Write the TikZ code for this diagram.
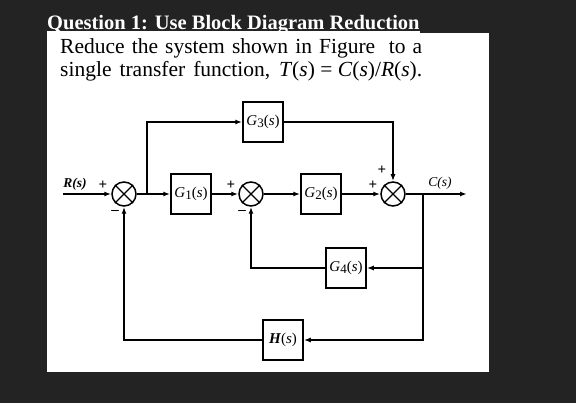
\documentclass[tikz,border=0pt]{standalone}
\usepackage{fontspec}
\setmainfont{Liberation Serif}
\usetikzlibrary{arrows.meta}
\definecolor{bg}{HTML}{232323}
\newcommand\Gsub[1]{\textit{G}\kern0.3pt\raisebox{-2pt}{\fontsize{13}{13}\selectfont #1}(\textit{s})}
\begin{document}
\begin{tikzpicture}[x=1pt,y=-1pt,
  blk/.style={draw,line width=1.5pt,minimum width=40pt,minimum height=40pt,inner sep=0pt,font=\fontsize{15}{15}\selectfont},
  sumj/.style={draw,circle,line width=1.5pt,minimum size=24pt,inner sep=0pt},
  wire/.style={line width=1.4pt},
  arr/.style={wire,-{Latex[length=7pt,width=5pt]}},
  sgn/.style={font=\fontsize{15}{15}\selectfont\bfseries,inner sep=0pt},
  lbl/.style={font=\fontsize{13.5}{13.5}\selectfont\itshape,inner sep=0pt}]
\fill[bg] (0,0) rectangle (576,403);
\useasboundingbox (0,0) rectangle (576,403);
\fill[white] (47,33) rectangle (489,372);
% title
\node[anchor=base west,text=white,font=\fontsize{20.5}{20.5}\selectfont\bfseries,inner sep=0pt] (title) at (47,30) {Question 1: Use Block Diagram Reduction};
\draw[white,line width=1.2pt] ([yshift=-2pt]title.base west) -- ([yshift=-2pt]title.base east);
% body text
\node[anchor=base west,inner sep=0pt,font=\fontsize{21.5}{24}\selectfont] (l1) at (60,54) {\makebox[362pt][s]{Reduce the system shown in Figure\hspace{0.3em} to a}};
\node[anchor=base west,inner sep=0pt,font=\fontsize{21.5}{24}\selectfont] (l2) at (60,77) {\makebox[362pt][s]{single transfer function, \mbox{\textit{T}(\textit{s})~=~\textit{C}(\textit{s})/\textit{R}(\textit{s}).}}};
% nodes
\coordinate (in) at (63,194);
\node[sumj] (s1) at (124,194) {};
\node[blk] (g1) at (191,194) {\Gsub{1}};
\node[sumj] (s2) at (251,194) {};
\node[blk] (g2) at (321,194) {\Gsub{2}};
\node[sumj] (s3) at (393,194) {};
\node[blk] (g3) at (263,122) {\Gsub{3}};
\node[blk] (g4) at (346,268) {\Gsub{4}};
\node[blk] (h) at (283,340) {\textit{\bfseries H}(\textit{s})};
\coordinate (b1) at (147,194);
\coordinate (b2) at (423,194);
\coordinate (out) at (467,194);
\foreach \s in {s1,s2,s3}{
  \draw[wire] (\s.north west) -- (\s.south east);
  \draw[wire] (\s.north east) -- (\s.south west);
}
% connectors
\draw[arr] (in) -- (s1);
\draw[arr] (s1) -- (g1);
\draw[arr] (g1) -- (s2);
\draw[arr] (s2) -- (g2);
\draw[arr] (g2) -- (s3);
\draw[arr] (b1) |- (g3);
\draw[arr] (g3) -| (s3);
\draw[arr] (s3) -- (out);
\draw[arr] (b2) |- (g4);
\draw[arr] (g4) -| (s2);
\draw[arr] (b2) |- (h);
\draw[arr] (h) -| (s1);
% labels
\node[lbl] (rl) at (75,184) {\bfseries R(s)};
\node[lbl] (cl) at (440,183) {C(s)};
\node[sgn] (p1) at (103,185) {+};
\node[sgn] (m1) at (115,212) {\textendash};
\node[sgn] (p2) at (231,185) {+};
\node[sgn] (m2) at (242,212) {\textendash};
\node[sgn] (p3) at (382,170) {+};
\node[sgn] (p4) at (373,185) {+};
\end{tikzpicture}
\end{document}
